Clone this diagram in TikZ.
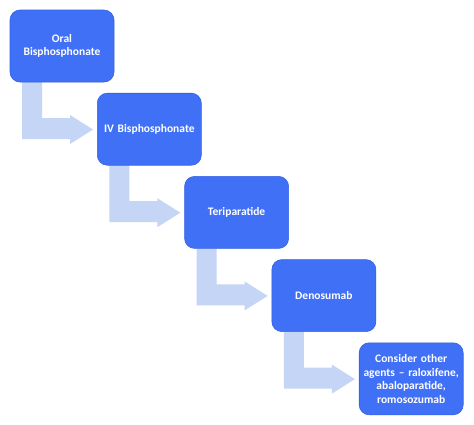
\documentclass[tikz,border=0pt]{standalone}
\usepackage{fontspec}
\setmainfont{Carlito}
\usetikzlibrary{calc}
\definecolor{boxblue}{RGB}{64,112,246}
\definecolor{boxedge}{RGB}{52,96,226}
\definecolor{arrowblue}{RGB}{197,213,245}
\begin{document}
\begin{tikzpicture}[x=1pt,y=1pt,
  stepbox/.style={draw=boxedge,line width=0.6pt,fill=boxblue,rounded corners=10pt,
    minimum width=104pt,minimum height=72pt,inner sep=2pt,align=center,
    text=white,font=\fontsize{11.5}{13.5}\selectfont\bfseries,text width=98pt},
  bentarrow/.style={fill=arrowblue,draw=none}]
\useasboundingbox (0,0) rectangle (474,-424);
\fill[white] (0,0) rectangle (474,-424);
% arrows first (behind)
\foreach \i in {0,...,3}{
  \pgfmathsetmacro{\L}{10+87.3*\i}
  \pgfmathsetmacro{\B}{-(82+83.2*\i)}
  \fill[arrowblue] (\L+12,\B) -- (\L+32,\B) -- (\L+32,\B-36) -- (\L+60,\B-36) -- (\L+60,\B-33)
    -- (\L+83,\B-47.5) -- (\L+60,\B-62) -- (\L+60,\B-57) -- (\L+12,\B-57) -- cycle;
}
\node[stepbox] (b1) at (62,-46) {Oral\\Bisphosphonate};
\node[stepbox] (b2) at (149.3,-129.2) {IV Bisphosphonate};
\node[stepbox] (b3) at (236.6,-212.4) {Teriparatide};
\node[stepbox] (b4) at (323.9,-295.6) {Denosumab};
\node[stepbox] (b5) at (411.2,-378.8) {Consider other\\agents – raloxifene,\\abaloparatide,\\romosozumab};
\end{tikzpicture}
\end{document}
